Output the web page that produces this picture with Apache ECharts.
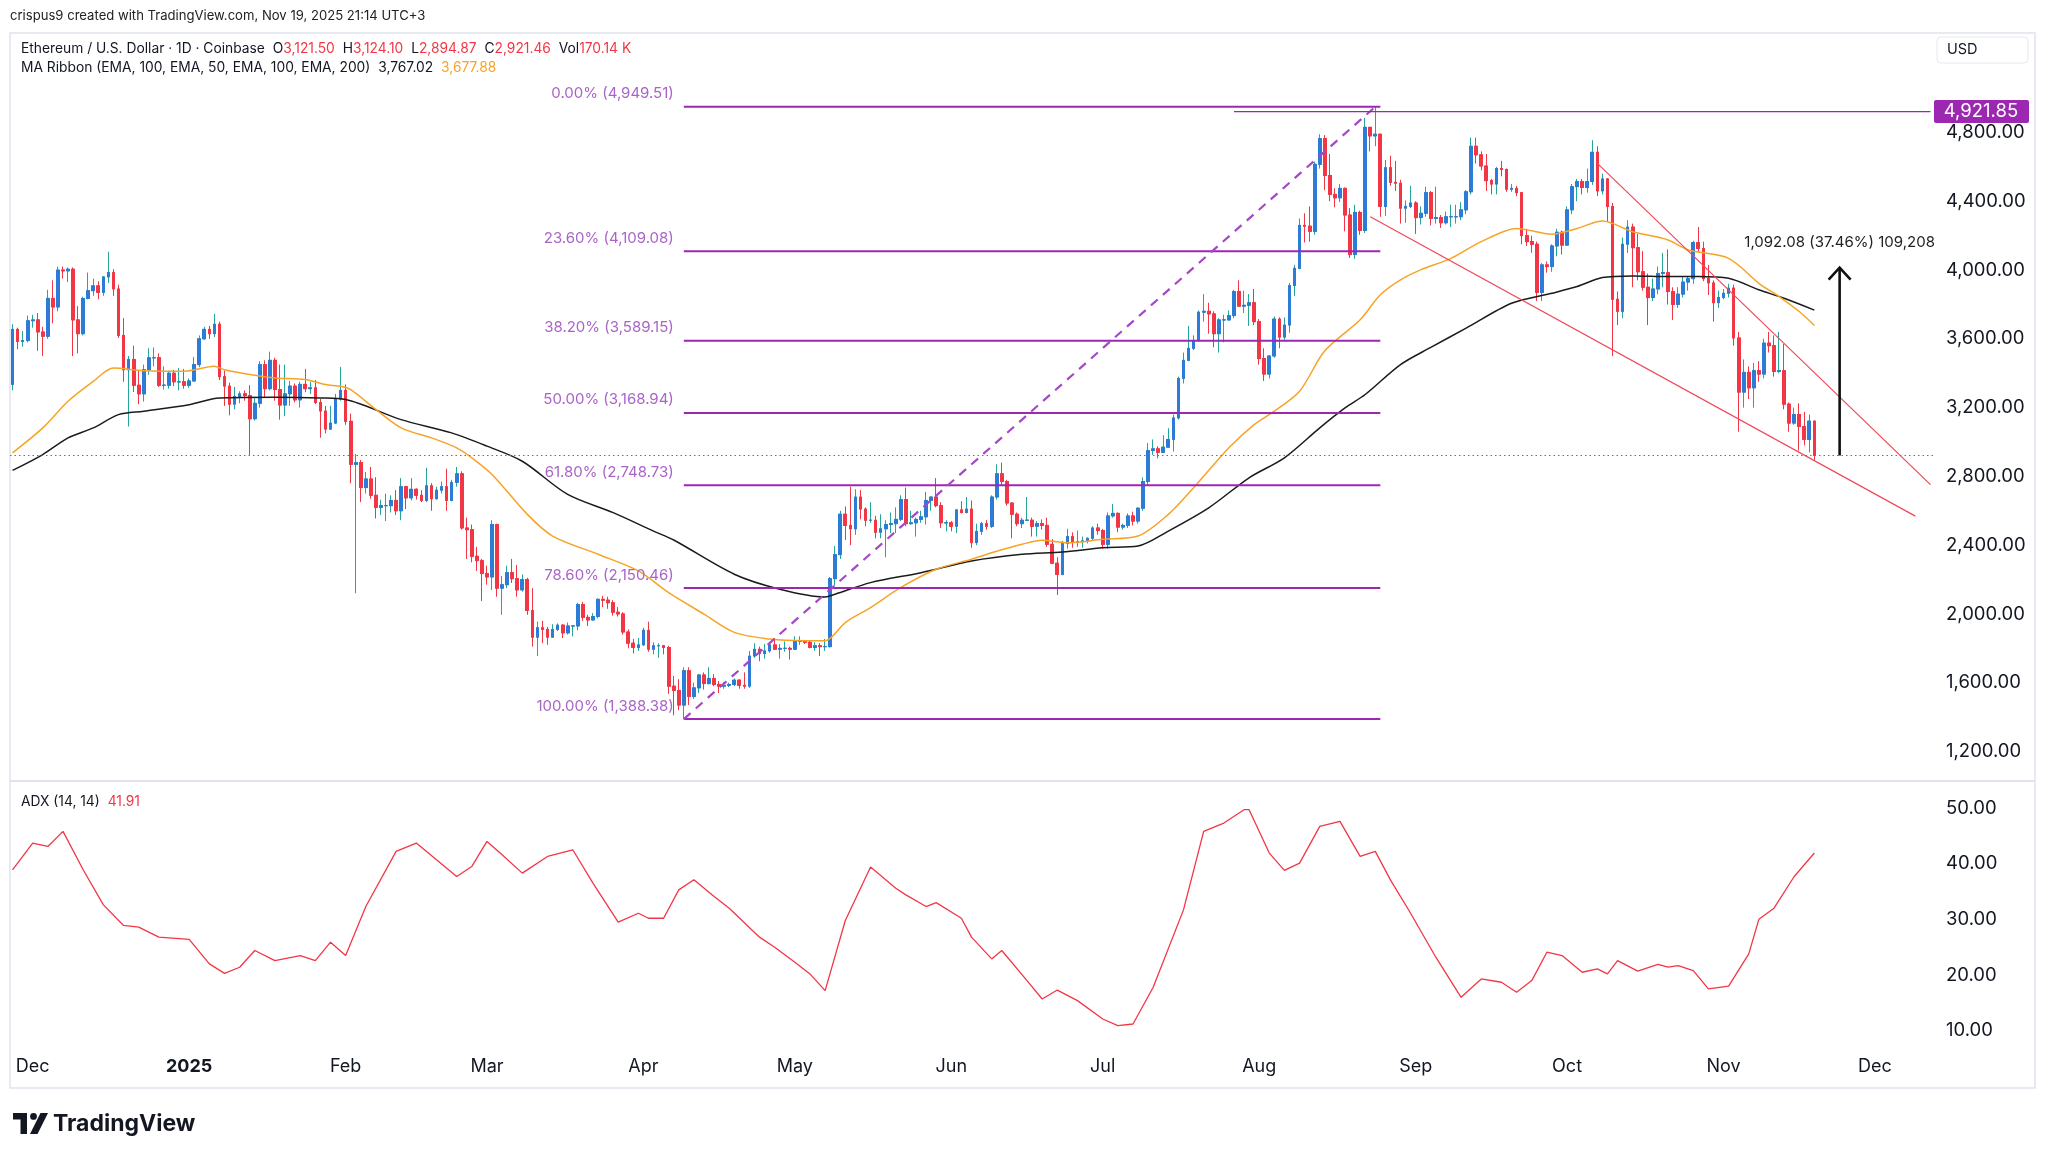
<!DOCTYPE html>
<html><head><meta charset="utf-8">
<script src="https://cdn.jsdelivr.net/npm/echarts@6/dist/echarts.min.js"></script>
<style>html,body{margin:0;padding:0;background:#fff}#c{width:2048px;height:1158px}</style>
</head><body><div id="c"></div>
<script>
// ---------- DATA ----------
const firstDay = '2024-11-27';
const dayCount = 381; // category slots (Nov 27 2024 .. Dec 12 2025)
// daily candles [open, high, low, close]
const ohlcNov2024 = [[3335,3685,3300,3655],[3655,3665,3540,3585],[3585,3645,3555,3590],[3590,3735,3580,3705]];
const ohlcDec2024 = [[3705,3740,3665,3710],[3710,3750,3530,3640],[3640,3670,3500,3615],[3615,3885,3600,3835],[3835,3940,3690,3785],[3785,4020,3760,4000],[4000,4020,3950,3995],[3995,4015,3930,4005],[4005,4015,3500,3710],[3710,3790,3515,3630],[3630,3845,3620,3835],[3835,3985,3830,3880],[3880,3950,3850,3908],[3908,3935,3830,3870],[3870,3965,3850,3960],[3960,4107,3925,3985],[3985,4005,3850,3890],[3890,3915,3605,3620],[3620,3720,3350,3420],[3420,3500,3090,3480],[3480,3560,3290,3330],[3330,3415,3220,3280],[3280,3450,3235,3420],[3420,3545,3390,3490],[3490,3550,3440,3490],[3490,3515,3320,3330],[3330,3440,3305,3330],[3330,3415,3310,3400],[3400,3420,3325,3350],[3350,3430,3300,3350],[3350,3425,3310,3330]];
const ohlcJan2025 = [[3330,3370,3315,3355],[3355,3495,3350,3450],[3450,3620,3435,3600],[3600,3670,3595,3655],[3655,3675,3600,3630],[3630,3745,3610,3685],[3685,3700,3360,3380],[3380,3415,3210,3325],[3325,3345,3155,3220],[3220,3320,3190,3265],[3265,3295,3225,3280],[3280,3300,3240,3270],[3270,3330,2920,3135],[3135,3255,3125,3225],[3225,3470,3200,3450],[3450,3475,3260,3310],[3310,3525,3300,3475],[3475,3490,3240,3305],[3305,3450,3130,3215],[3215,3450,3150,3280],[3280,3355,3210,3325],[3325,3340,3230,3245],[3245,3350,3200,3335],[3335,3425,3290,3310],[3310,3350,3280,3315],[3315,3360,3220,3230],[3230,3250,3025,3180],[3180,3210,3050,3075],[3075,3210,3070,3110],[3110,3280,3105,3250],[3250,3437,3240,3300]];
const ohlcFeb2025 = [[3300,3335,3100,3120],[3120,3165,2760,2870],[2870,2930,2120,2880],[2880,2895,2650,2735],[2735,2825,2700,2785],[2785,2855,2670,2690],[2690,2795,2555,2620],[2620,2665,2575,2630],[2630,2700,2540,2630],[2630,2690,2590,2660],[2660,2720,2575,2600],[2600,2790,2545,2740],[2740,2745,2610,2675],[2675,2790,2660,2725],[2725,2730,2665,2690],[2690,2720,2650,2660],[2660,2850,2650,2745],[2745,2760,2600,2670],[2670,2740,2665,2720],[2720,2770,2700,2740],[2740,2845,2600,2660],[2660,2780,2655,2765],[2765,2855,2740,2815],[2815,2830,2490,2500],[2500,2560,2320,2490],[2490,2520,2300,2335],[2335,2390,2250,2310],[2310,2320,2075,2235]];
const ohlcMar2025 = [[2235,2280,2170,2215],[2215,2545,2140,2520],[2520,2525,2100,2150],[2150,2220,1995,2170],[2170,2280,2150,2240],[2240,2320,2180,2205],[2205,2285,2100,2140],[2140,2230,2130,2200],[2200,2210,1995,2020],[2020,2150,1810,1865],[1865,1955,1755,1920],[1920,1960,1830,1910],[1910,1925,1820,1865],[1865,1940,1860,1910],[1910,1945,1900,1935],[1935,1940,1860,1890],[1890,1950,1880,1930],[1930,1935,1870,1930],[1930,2065,1905,2055],[2055,2070,1960,1980],[1980,1995,1930,1965],[1965,2005,1960,1985],[1985,2090,1975,2085],[2085,2105,2040,2080],[2080,2100,2030,2065],[2065,2080,1990,2010],[2010,2040,1985,2000],[2000,2010,1880,1895],[1895,1910,1800,1830],[1830,1855,1770,1805],[1805,1860,1785,1820]];
const ohlcApr2025 = [[1820,1920,1815,1905],[1905,1955,1780,1795],[1795,1835,1765,1815],[1815,1830,1745,1815],[1815,1820,1765,1805],[1805,1815,1535,1580],[1580,1640,1410,1555],[1555,1620,1440,1470],[1470,1690,1388.38,1670],[1670,1690,1470,1520],[1520,1600,1505,1570],[1570,1650,1540,1645],[1645,1660,1560,1595],[1595,1690,1590,1625],[1625,1650,1580,1590],[1590,1610,1540,1580],[1580,1605,1565,1585],[1585,1600,1575,1590],[1590,1625,1580,1615],[1615,1620,1565,1585],[1585,1660,1565,1580],[1580,1785,1570,1755],[1755,1830,1745,1795],[1795,1810,1725,1770],[1770,1825,1740,1785],[1785,1830,1775,1820],[1820,1860,1790,1795],[1795,1825,1740,1800],[1800,1840,1780,1800],[1800,1810,1735,1795]];
const ohlcMay2025 = [[1795,1870,1790,1840],[1840,1870,1820,1840],[1840,1845,1825,1835],[1835,1845,1800,1805],[1805,1835,1785,1815],[1815,1830,1755,1810],[1810,1855,1785,1810],[1810,2215,1805,2205],[2205,2395,2165,2345],[2345,2600,2320,2580],[2580,2625,2430,2515],[2515,2740,2400,2495],[2495,2725,2460,2680],[2680,2720,2550,2610],[2610,2620,2510,2545],[2545,2650,2530,2545],[2545,2570,2440,2475],[2475,2580,2440,2495],[2495,2545,2330,2520],[2520,2590,2470,2525],[2525,2620,2470,2550],[2550,2690,2540,2665],[2665,2735,2510,2525],[2525,2600,2520,2530],[2530,2560,2450,2550],[2550,2600,2530,2565],[2565,2710,2520,2660],[2660,2680,2600,2680],[2680,2790,2620,2630],[2630,2650,2500,2530],[2530,2545,2480,2530]];
const ohlcJun2025 = [[2530,2540,2480,2510],[2510,2610,2470,2605],[2605,2655,2585,2590],[2590,2680,2585,2610],[2610,2660,2385,2415],[2415,2525,2400,2480],[2480,2535,2460,2525],[2525,2545,2490,2510],[2510,2690,2500,2680],[2680,2870,2665,2815],[2815,2880,2745,2770],[2770,2780,2630,2645],[2645,2650,2440,2580],[2580,2590,2510,2525],[2525,2560,2500,2545],[2545,2680,2540,2545],[2545,2560,2450,2510],[2510,2540,2450,2525],[2525,2550,2490,2515],[2515,2560,2390,2405],[2405,2435,2290,2295],[2295,2330,2110,2230],[2230,2425,2225,2410],[2410,2495,2380,2450],[2450,2475,2385,2420],[2420,2485,2390,2420],[2420,2450,2385,2425],[2425,2445,2410,2440],[2440,2510,2430,2500],[2500,2525,2460,2485]];
const ohlcJul2025 = [[2485,2495,2380,2405],[2405,2590,2380,2570],[2570,2640,2560,2585],[2585,2590,2475,2505],[2505,2525,2490,2515],[2515,2585,2500,2570],[2570,2595,2515,2540],[2540,2620,2525,2615],[2615,2795,2600,2770],[2770,2995,2745,2950],[2950,3015,2925,2960],[2960,2975,2905,2940],[2940,3040,2935,2970],[2970,3080,2965,3015],[3015,3160,2945,3140],[3140,3380,3130,3370],[3370,3520,3340,3475],[3475,3675,3470,3545],[3545,3620,3535,3590],[3590,3765,3585,3755],[3755,3860,3700,3760],[3760,3810,3630,3745],[3745,3760,3550,3630],[3630,3720,3520,3710],[3710,3740,3580,3710],[3710,3765,3705,3735],[3735,3885,3720,3875],[3875,3940,3790,3790],[3790,3880,3750,3795],[3795,3860,3675,3810],[3810,3890,3680,3700]];
const ohlcAug2025 = [[3700,3715,3450,3485],[3485,3545,3355,3395],[3395,3505,3370,3500],[3500,3730,3490,3715],[3715,3725,3545,3610],[3610,3725,3595,3680],[3680,3925,3635,3910],[3910,4030,3850,4010],[4010,4300,4005,4260],[4260,4330,4160,4255],[4255,4370,4165,4225],[4225,4630,4205,4615],[4615,4790,4590,4765],[4765,4785,4465,4550],[4550,4675,4400,4440],[4440,4475,4365,4420],[4420,4500,4395,4475],[4475,4480,4225,4320],[4320,4360,4070,4090],[4090,4380,4065,4335],[4335,4345,4205,4230],[4230,4885,4215,4830],[4830,4830,4690,4780],[4780,4949.51,4720,4790],[4790,4790,4310,4370],[4370,4640,4315,4595],[4595,4665,4490,4510],[4510,4635,4460,4505],[4505,4525,4270,4360],[4360,4405,4275,4370],[4370,4490,4360,4390]];
const ohlcSep2025 = [[4390,4400,4210,4305],[4305,4370,4265,4330],[4330,4485,4310,4450],[4450,4460,4260,4300],[4300,4485,4270,4305],[4305,4320,4245,4275],[4275,4340,4265,4310],[4310,4380,4250,4310],[4310,4380,4270,4310],[4310,4395,4290,4350],[4350,4465,4325,4455],[4455,4770,4440,4720],[4720,4770,4620,4670],[4670,4690,4580,4605],[4605,4675,4460,4520],[4520,4530,4440,4500],[4500,4600,4440,4590],[4590,4635,4545,4585],[4585,4590,4455,4470],[4470,4500,4455,4475],[4475,4490,4430,4450],[4450,4450,4150,4200],[4200,4240,4140,4165],[4165,4200,4100,4150],[4150,4165,3820,3870],[3870,4040,3820,4030],[4030,4050,3985,4020],[4020,4150,3990,4140],[4140,4240,4080,4220],[4220,4230,4090,4145]];
const ohlcOct2025 = [[4145,4370,4140,4350],[4350,4500,4325,4485],[4485,4530,4400,4515],[4515,4530,4440,4480],[4480,4590,4450,4515],[4515,4755,4495,4685],[4685,4720,4430,4460],[4460,4560,4440,4530],[4530,4535,4280,4370],[4370,4390,3500,3830],[3830,3875,3680,3760],[3760,4190,3720,4150],[4150,4290,4100,4250],[4250,4270,3900,4130],[4130,4210,3940,3990],[3990,4110,3880,3900],[3900,3980,3680,3840],[3840,3950,3820,3890],[3890,4020,3860,3980],[3980,4100,3900,3985],[3985,4120,3800,3875],[3875,3900,3710,3800],[3800,3900,3780,3860],[3860,3960,3840,3930],[3930,3960,3880,3950],[3950,4170,3920,4160],[4160,4250,4105,4125],[4125,4165,3935,3950],[3950,4030,3855,3925],[3925,3940,3700,3810],[3810,3880,3780,3840]];
const ohlcNov2025 = [[3840,3890,3830,3865],[3865,3920,3840,3895],[3895,3915,3560,3605],[3605,3640,3060,3290],[3290,3480,3200,3405],[3405,3440,3250,3315],[3315,3460,3200,3415],[3415,3470,3350,3395],[3395,3600,3370,3575],[3575,3640,3520,3560],[3560,3620,3380,3410],[3410,3640,3400,3415],[3415,3570,3190,3220],[3220,3230,3060,3110],[3110,3200,3100,3160],[3160,3225,2950,3090],[3090,3175,2980,3015],[3015,3160,2940,3121.5],[3121.5,3124.1,2894.87,2921.46]];

// EMA ribbon (day offset from first candle, value)
const ema50Day   = [0,6,11,16,20,26,34,40,42,48,52,58,62,65,67,72,77,83,88,91,95,102,107,116,124,130,137,143,150,157,161,165,170,176,183,190,194,200,204,209,216,223,229,234,241,246,250,255,260,267,271,275,279,285,291,298,305,310,315,321,328,332,340,346,350,354,357];
const ema50Value = [2937,3082,3237,3353,3430,3415,3411,3440,3420,3388,3372,3363,3334,3324,3304,3189,3082,3024,2966,2908,2811,2579,2453,2347,2250,2124,1999,1893,1854,1844,1844,1950,2037,2154,2260,2318,2356,2405,2428,2414,2434,2453,2579,2734,2966,3101,3179,3295,3530,3711,3856,3943,4001,4068,4165,4242,4208,4242,4285,4223,4175,4117,4068,3923,3846,3759,3677.88];
const ema100Day   = [0,6,11,16,21,26,35,41,52,61,66,77,87,94,101,110,119,127,131,143,152,161,163,170,180,190,200,208,216,223,229,237,245,252,259,264,268,275,281,288,297,305,310,315,321,328,334,340,346,351,357];
const ema100Value = [2835,2927,3024,3082,3159,3179,3217,3256,3260,3256,3247,3130,3053,2976,2888,2695,2589,2482,2430,2231,2144,2099,2115,2182,2240,2308,2347,2360,2385,2395,2482,2617,2792,2908,3082,3198,3276,3450,3550,3662,3807,3865,3904,3956,3966,3962,3962,3952,3885,3836,3767.02];

// ADX (14,14)
const adxDay   = [0,4,7,10,14,18,22,25,29,35,39,42,45,48,52,57,60,63,66,70,76,80,84,88,91,94,97,101,106,111,115,120,124,126,129,132,135,139,142,148,151,155,158,161,165,170,175,177,181,183,188,190,194,196,201,204,207,211,216,219,222,226,232,236,240,244,245,249,252,255,259,263,267,270,273,277,282,287,291,295,298,301,304,307,311,314,316,318,322,326,328,330,333,336,340,344,346,349,353,357];
const adxValue = [38.9,43.7,43.1,45.8,38.9,32.6,28.9,28.6,26.8,26.4,22.0,20.3,21.4,24.4,22.6,23.5,22.6,25.9,23.5,32.3,42.2,43.7,40.7,37.7,39.5,44.0,41.6,38.3,41.3,42.5,36.5,29.5,31.1,30.2,30.2,35.3,37.1,34.1,32.0,26.8,25.0,22.3,20.2,17.2,29.8,39.4,35.6,34.4,32.3,33.0,30.2,26.8,22.9,24.4,19.0,15.7,17.3,15.4,12.1,10.9,11.2,17.8,31.7,45.8,47.3,49.7,49.7,41.9,38.8,40.1,46.7,47.6,41.3,42.2,37.1,31.1,23.2,16.0,19.3,18.7,16.9,19.0,24.1,23.5,20.5,21.1,20.2,22.6,20.7,21.9,21.4,21.7,20.8,17.5,18.0,23.8,30.0,32.0,37.7,41.91];

// Fibonacci retracement
const fibLevels = [0, 23.6, 38.2, 50, 61.8, 78.6, 100];
const fibPrices = [4949.51, 4109.08, 3589.15, 3168.94, 2748.73, 2150.46, 1388.38];
const fibStartDay = '2025-04-09', fibEndDay = '2025-08-25';
const fibDiagonal = [['2025-04-09', 1388.38], ['2025-08-24', 4949.51]];
// drawings
const wedgeUpper = [['2025-10-07', 4620], ['2025-12-12', 2752]];
const wedgeLower = [['2025-08-23', 4310], ['2025-12-09', 2569]];
const rayPrice = 4921.85, rayStartDay = '2025-07-27', rayEndDay = '2025-12-12';
const lastPrice = 2921.46;
const measureDay = '2025-11-24', measureFrom = 2921.46, measureTo = 4013.54;
const measureText = '1,092.08 (37.46%) 109,208';
// axes
const priceMin = 1200, priceMax = 5200, priceStep = 400, priceLabelMax = 4800;
const adxMin = 10, adxMax = 50, adxStep = 10;
const monthNames = ['Jan','Feb','Mar','Apr','May','Jun','Jul','Aug','Sep','Oct','Nov','Dec'];

// ---------- BUILD ----------
function buildDays(){
  const [y,m,d] = firstDay.split('-').map(Number);
  const t0 = Date.UTC(y, m-1, d);
  const out = [];
  for (let i = 0; i < dayCount; i++) {
    const dt = new Date(t0 + i*86400000);
    out.push(dt.getUTCFullYear()+'-'+String(dt.getUTCMonth()+1).padStart(2,'0')+'-'+String(dt.getUTCDate()).padStart(2,'0'));
  }
  return out;
}
const days = buildDays();
const ohlc = [].concat(ohlcNov2024, ohlcDec2024, ohlcJan2025, ohlcFeb2025, ohlcMar2025, ohlcApr2025, ohlcMay2025, ohlcJun2025, ohlcJul2025, ohlcAug2025, ohlcSep2025, ohlcOct2025, ohlcNov2025);
const wickData = ohlc.map(r => [r[0], r[3], r[2], r[1]]);
const bodyData = ohlc.map(r => [r[0], r[3], Math.min(r[0], r[3]), Math.max(r[0], r[3])]);
const pairs = (dArr, vArr) => dArr.map((d, i) => [days[d], vArr[i]]);
const fmt = v => Number(v).toLocaleString('en-US', {minimumFractionDigits: 2, maximumFractionDigits: 2});

const FONT = 'Inter, "Noto Sans", sans-serif';
const TXT = '#131722', RED = '#F23645', UPB = '#2C7BD6', UPW = '#26A69A', PURP = '#9C27B0', FIBTXT = '#AA64C8';
const ORANGE = '#F7A325', BLACK = '#1B1B1B';

const GRID_L = 10, GRID_R = 115;
const chart = echarts.init(document.getElementById('c'), null, {renderer: 'canvas', width: 2048, height: 1158});

const lineSeries = (name, data, color, width, type) => ({
  name, type: 'line', xAxisIndex: 0, yAxisIndex: 0, data, symbol: 'none', silent: true,
  lineStyle: {color, width, type: type || 'solid'}, animation: false, z: 4
});

const series = [
  {type: 'candlestick', name: 'wicks', xAxisIndex: 0, yAxisIndex: 0, data: wickData, barWidth: 3.2,
   itemStyle: {color: UPB, color0: RED, borderColor: UPW, borderColor0: RED, borderWidth: 1}, z: 2, silent: true},
  {type: 'candlestick', name: 'bodies', xAxisIndex: 0, yAxisIndex: 0, data: bodyData, barWidth: 3.2,
   itemStyle: {color: UPB, color0: RED, borderColor: UPB, borderColor0: RED, borderWidth: 1}, z: 3, silent: true,
   markLine: {symbol: 'none', silent: true, animation: false, label: {show: false},
     lineStyle: {color: RED, width: 1, type: [1.5, 3]}, data: [{yAxis: lastPrice}]}},
  lineSeries('EMA100', pairs(ema100Day, ema100Value), BLACK, 1.5),
  lineSeries('EMA50', pairs(ema50Day, ema50Value), ORANGE, 1.5),
];
series[2].smooth = 0.3; series[3].smooth = 0.3;
fibPrices.forEach((p, i) => series.push(lineSeries('fib' + i, [[fibStartDay, p], [fibEndDay, p]], PURP, 2)));
series.push(lineSeries('fibDiag', fibDiagonal, '#A646C8', 2.2, [9, 7]));
series.push(lineSeries('wedgeUpper', wedgeUpper, '#F0485A', 1.2));
series.push(lineSeries('wedgeLower', wedgeLower, '#F0485A', 1.2));
series.push(lineSeries('ray', [[rayStartDay, rayPrice], [rayEndDay, rayPrice]], PURP, 1.2));
series.push({name: 'ADX', type: 'line', xAxisIndex: 1, yAxisIndex: 1, data: pairs(adxDay, adxValue), symbol: 'none',
  silent: true, lineStyle: {color: RED, width: 1.3}, animation: false});

const option = {
  animation: false,
  backgroundColor: '#ffffff',
  textStyle: {fontFamily: FONT},
  grid: [
    {left: GRID_L, right: GRID_R, top: 63.7, height: 687.8, containLabel: false, outerBoundsMode: 'none'},
    {left: GRID_L, right: GRID_R, top: 808, height: 222.7, containLabel: false, outerBoundsMode: 'none'}
  ],
  xAxis: [
    {type: 'category', gridIndex: 0, data: days, boundaryGap: true, axisLine: {show: false}, axisTick: {show: false},
     axisLabel: {show: false}, splitLine: {show: false}},
    {type: 'category', gridIndex: 1, data: days, boundaryGap: true, axisLine: {show: false}, axisTick: {show: false},
     splitLine: {show: false},
     axisLabel: {interval: (i, v) => v.slice(8) === '01', margin: 27, fontSize: 18, color: TXT, fontFamily: FONT,
       formatter: v => { const m = +v.slice(5, 7); return m === 1 ? '{b|' + v.slice(0, 4) + '}' : monthNames[m - 1]; },
       rich: {b: {fontWeight: 'bold', fontSize: 18, color: TXT, fontFamily: FONT}}}}
  ],
  yAxis: [
    {type: 'value', gridIndex: 0, position: 'right', min: priceMin, max: priceMax, interval: priceStep, scale: false,
     axisLine: {show: false}, axisTick: {show: false}, splitLine: {show: false},
     axisLabel: {margin: 13, fontSize: 18.5, color: TXT, fontFamily: FONT, formatter: v => v > priceLabelMax ? '' : fmt(v)}},
    {type: 'value', gridIndex: 1, position: 'right', min: adxMin, max: adxMax, interval: adxStep,
     axisLine: {show: false}, axisTick: {show: false}, splitLine: {show: false},
     axisLabel: {margin: 13, fontSize: 18.5, color: TXT, fontFamily: FONT, formatter: v => fmt(v)}}
  ],
  series
};
chart.setOption(option);

// ---------- OVERLAYS (positions via the chart's own scales) ----------
const px = (d, v) => chart.convertToPixel({gridIndex: 0}, [d, v]);
const g = [];
const T = (x, y, text, o) => g.push({type: 'text', x, y, silent: true, z: 100,
  style: Object.assign({text, fill: TXT, fontFamily: FONT, fontSize: 14, align: 'left', verticalAlign: 'middle'}, o || {})});

// frame
g.push({type: 'rect', shape: {x: 10, y: 33, width: 2025, height: 1055}, style: {fill: 'none', stroke: '#E0E3EB', lineWidth: 1.5}, silent: true, z: 1});
g.push({type: 'line', shape: {x1: 10, y1: 781, x2: 2035, y2: 781}, style: {stroke: '#E0E3EB', lineWidth: 2}, silent: true, z: 1});

// header + legends
T(10, 16, 'crispus9 created with TradingView.com, Nov 19, 2025 21:14 UTC+3', {fontSize: 13.1, fill: '#222'});
T(21, 48.5, '{d|Ethereum / U.S. Dollar · 1D · Coinbase}  {d|O}{r|3,121.50}  {d|H}{r|3,124.10}  {d|L}{r|2,894.87}  {d|C}{r|2,921.46}  {d|Vol}{r|170.14 K}',
  {rich: {d: {fill: TXT, fontSize: 13.8, fontFamily: FONT}, r: {fill: RED, fontSize: 13.8, fontFamily: FONT}}});
T(21, 68, '{d|MA Ribbon (EMA, 100, EMA, 50, EMA, 100, EMA, 200)}  {d|3,767.02}  {o|3,677.88}',
  {rich: {d: {fill: TXT, fontSize: 13.8, fontFamily: FONT}, o: {fill: ORANGE, fontSize: 13.8, fontFamily: FONT}}});
T(21, 802, '{d|ADX (14, 14)}  {r|41.91}',
  {rich: {d: {fill: TXT, fontSize: 13.8, fontFamily: FONT}, r: {fill: RED, fontSize: 13.8, fontFamily: FONT}}});

// USD box
g.push({type: 'rect', shape: {x: 1937, y: 37, width: 91, height: 26, r: 4}, style: {fill: '#fff', stroke: '#E6E8EE', lineWidth: 1}, silent: true, z: 99});
T(1947, 50, 'USD', {fontSize: 14.5});

// fib labels
fibPrices.forEach((p, i) => {
  const [x, y] = px(fibStartDay, p);
  T(x - 10, y - 13, fibLevels[i].toFixed(2) + '% (' + fmt(p) + ')', {fontSize: 15, fill: FIBTXT, align: 'right'});
});

// ray price label
{
  const y = px(rayEndDay, rayPrice)[1];
  g.push({type: 'rect', shape: {x: 1934, y: y - 11.5, width: 95, height: 23, r: 2}, style: {fill: PURP}, silent: true, z: 99});
  T(1981, y, fmt(rayPrice), {fill: '#fff', fontSize: 18.5, align: 'center'});
}

// measure arrow
{
  const [ax, yb] = px(measureDay, measureFrom);
  const yt = px(measureDay, measureTo)[1];
  g.push({type: 'line', shape: {x1: ax, y1: yb, x2: ax, y2: yt}, style: {stroke: '#111', lineWidth: 2.6}, silent: true, z: 50});
  g.push({type: 'polyline', shape: {points: [[ax - 11, yt + 12], [ax, yt], [ax + 11, yt + 12]]}, style: {stroke: '#111', lineWidth: 2.6, fill: 'none'}, silent: true, z: 50});
  T(ax, yt - 25, measureText, {fontSize: 15, align: 'center', fill: '#222'});
}

// TradingView logo
{
  const lx = 13, ly = 1113;
  g.push({type: 'group', x: lx, y: ly, silent: true, z: 100, children: [
    {type: 'rect', shape: {x: 0, y: 0, width: 14, height: 6.5}, style: {fill: '#131722'}},
    {type: 'rect', shape: {x: 7.5, y: 0, width: 6.5, height: 21}, style: {fill: '#131722'}},
    {type: 'circle', shape: {cx: 20.5, cy: 3.4, r: 3.4}, style: {fill: '#131722'}},
    {type: 'polygon', shape: {points: [[17, 21], [24.5, 21], [35, 0], [27.5, 0]]}, style: {fill: '#131722'}}
  ]});
  T(53, 1124, 'TradingView', {fontSize: 23, fontWeight: 'bold', fill: '#131722'});
}

chart.setOption({graphic: g});
</script>
</body></html>
